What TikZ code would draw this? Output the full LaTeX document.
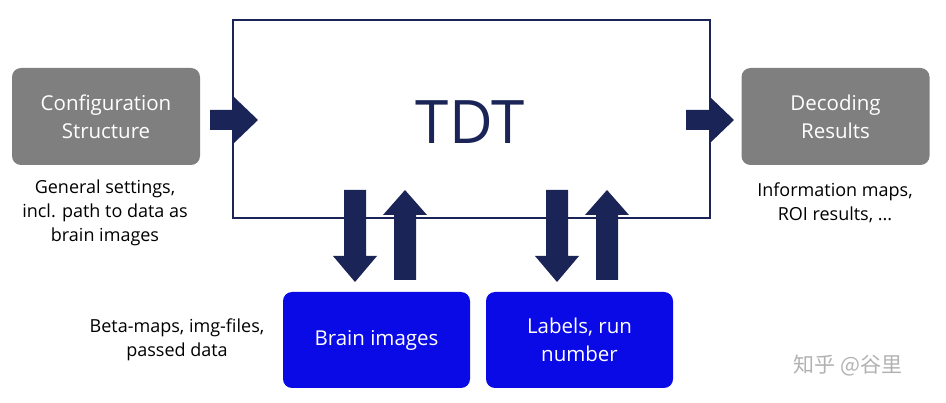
\documentclass[tikz,border=0pt]{standalone}
\usepackage{fontspec}
\setmainfont{Open Sans}
\newfontfamily\cjk{Noto Sans CJK SC}
\definecolor{navy}{HTML}{1B2456}
\definecolor{gbox}{HTML}{7F7F7F}
\definecolor{bbox}{HTML}{0A0AE6}
\begin{document}
\begin{tikzpicture}[x=1pt,y=-1pt,
  gray box/.style={fill=gbox,rounded corners=9pt,minimum width=188pt,minimum height=97pt,text=white,font=\fontsize{20.5}{28}\selectfont,align=center},
  blue box/.style={fill=bbox,rounded corners=9pt,minimum width=187pt,minimum height=96pt,text=white,font=\fontsize{20.5}{28}\selectfont,align=center},
  note/.style={align=center,font=\fontsize{18}{24}\selectfont,text=black},
  blockarrow/.style={fill=navy}]
\useasboundingbox (0,0) rectangle (946,403);
\node[draw=navy,line width=1.2pt,minimum width=477pt,minimum height=198pt] (tdt) at (471.5,119) {};
\node[text=navy,font=\fontsize{60}{70}\selectfont] (title) at (470,122) {TDT};
\node[gray box] (conf) at (106,116.5) {Configuration\\Structure};
\node[gray box] (dec) at (835.5,116.5) {Decoding\\Results};
\node[blue box] (brain) at (376.5,340) {Brain images};
\node[blue box] (labels) at (579.5,340) {Labels, run\\number};
\node[note] (n1) at (105,213) {General settings,\\incl. path to data as\\brain images};
\node[note] (n2) at (835,203) {Information maps,\\ROI results, ...};
\node[note] (n3) at (177,340) {Beta-maps, img-files,\\passed data};
\node[text=gray!60,font=\cjk\fontsize{21}{24}\selectfont] (wm) at (848,365) {知乎 @谷里};
\fill[blockarrow] (210,110) -- (234,110) -- (234,97) -- (258,120) -- (234,143) -- (234,130) -- (210,130) -- cycle;
\fill[blockarrow] (686,110) -- (710,110) -- (710,97) -- (734,120) -- (710,143) -- (710,130) -- (686,130) -- cycle;
\foreach \c/\u in {355/405,557/607}{
  \fill[blockarrow] (\c-11,190) -- (\c+11,190) -- (\c+11,256) -- (\c+22,256) -- (\c,282) -- (\c-22,256) -- (\c-11,256) -- cycle;
  \fill[blockarrow] (\u-11,280) -- (\u+11,280) -- (\u+11,215) -- (\u+22,215) -- (\u,190) -- (\u-22,215) -- (\u-11,215) -- cycle;
}
\end{tikzpicture}
\end{document}
